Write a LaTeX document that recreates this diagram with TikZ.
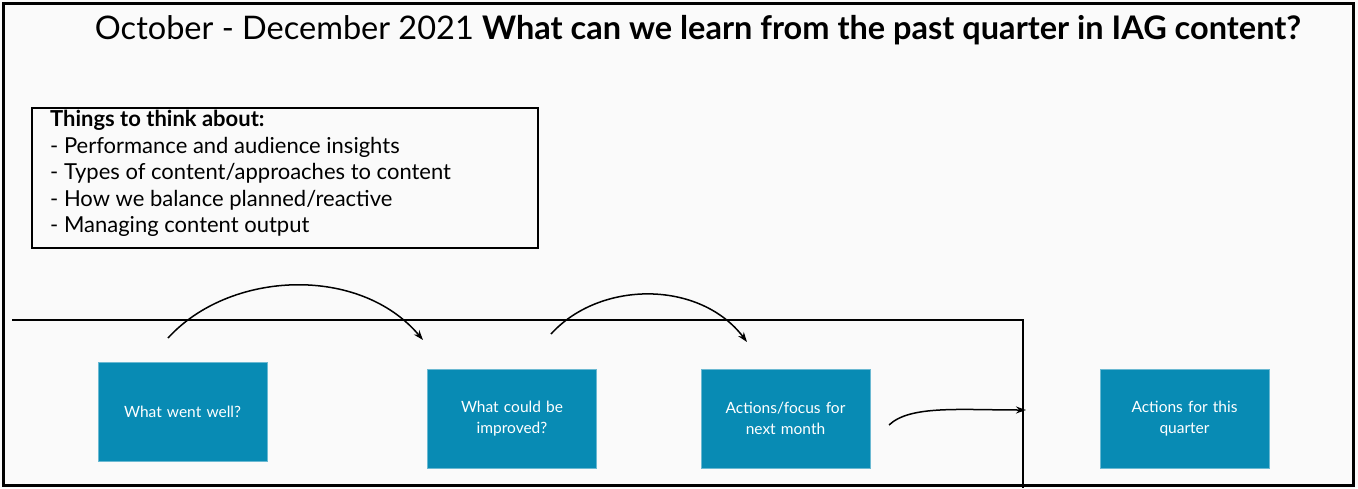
\documentclass[tikz,border=0pt]{standalone}
\usepackage{fontspec}
\setmainfont{Lato}
\usetikzlibrary{positioning, arrows.meta}
\definecolor{stepblue}{HTML}{088BB4}
\begin{document}
\begin{tikzpicture}[
    x=1pt, y=-1pt,
    stage/.style={fill=stepblue, draw=stepblue!60!white, minimum width=169pt, minimum height=99pt,
        text width=150pt, align=center, text=white, font=\fontsize{15.5}{21}\selectfont},
    hop/.style={-{Stealth[length=10pt, width=7pt]}, line width=1.5pt}
]
    \useasboundingbox (0,0) rectangle (1358,488);
    \fill[white!98!black] (0,0) rectangle (1358,488);
    \draw[line width=3pt] (3,3) rectangle (1353,485);
    % title
    \node (title) at (698,30) {\fontsize{32.5}{36}\selectfont October - December 2021 \textbf{What can we learn from the past quarter in IAG content?}};
    % prompts
    \node[draw, line width=1.5pt, minimum width=506pt, minimum height=140pt, anchor=north west, inner sep=0pt] (prompts) at (31,107) {};
    \node[anchor=north west, align=left, inner sep=0pt, font=\fontsize{22}{26.5}\selectfont] (promptstext) at (50,110)
        {\textbf{Things to think about:}\\- Performance and audience insights\\- Types of content/approaches to content\\- How we balance planned/reactive\\- Managing content output};
    % month frame
    \coordinate (fl) at (12,320);
    \coordinate (fr) at (1023,320);
    \coordinate (fb) at (1023,488);
    \draw[line width=1.5pt] (fl) -- (fr) -- (fb);
    % stages
    \node[stage] (well) at (182.5,411.5) {What went well?};
    \node[stage] (improve) at (512,418.5) {What could be\\improved?};
    \node[stage] (month) at (785.5,418.5) {Actions/focus for\\next month};
    \node[stage] (quarter) at (1184.5,418.5) {Actions for this\\quarter};
    % hops
    \coordinate (a1) at (168,338);
    \coordinate (b1) at (423,340);
    \coordinate (a2) at (551,334);
    \coordinate (b2) at (747,342);
    \coordinate (a3) at (889,425);
    \coordinate (b3) at (1026,410);
    \draw[hop] (a1) .. controls (230,270) and (360,265) .. (b1);
    \draw[hop] (a2) .. controls (600,280) and (700,280) .. (b2);
    \draw[hop] (a3) .. controls (910,405) and (960,410) .. (b3);
\end{tikzpicture}
\end{document}
